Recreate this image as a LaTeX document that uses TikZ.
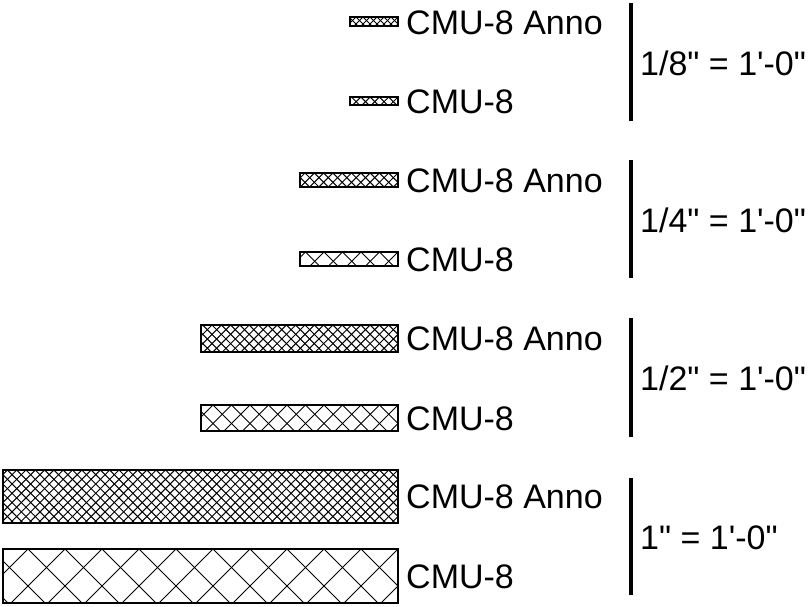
\documentclass[tikz,border=0pt]{standalone}
\usepackage{fontspec}
\newfontfamily\lblfont{Liberation Sans}
\usetikzlibrary{positioning}
\tikzset{
  lbl/.style={anchor=west,inner sep=0pt,font=\lblfont\fontsize{34}{38}\selectfont},
  bar/.style={line width=4pt},
  frame/.style={line width=2.5pt},
  hatch/.style={line width=1pt}
}
% name, left x, top y, bottom y, period
\newcommand{\hatchbox}[5]{%
  \begin{scope}
    \clip (#2,#3) rectangle (398,#4);
    \pgfmathsetmacro{\hstep}{#5}
    \foreach \k in {-25,...,110}{
      \pgfmathsetmacro{\xs}{398-\k*\hstep}
      \draw[hatch] (\xs,#3) -- ++(-100,100) (\xs,#3) -- ++(100,100);
    }
  \end{scope}
  \draw[frame] (#2,#3) rectangle (398,#4);
  \coordinate (#1) at (398,{(#3+#4)/2});
}
\begin{document}
\begin{tikzpicture}[x=1pt,y=-1pt]
  \useasboundingbox (0,0) rectangle (810,606);
  %% 1/8
  \hatchbox{a1}{350}{17}{26}{7}
  \hatchbox{b1}{350}{97}{105}{9.3}
  \node[lbl] (ta1) at (406,23) {CMU-8 Anno};
  \node[lbl] (tb1) at (406,102) {CMU-8};
  %% 1/4
  \hatchbox{a2}{300}{173}{187}{9.3}
  \hatchbox{b2}{300}{252}{266}{18.5}
  \node[lbl] (ta2) at (406,181) {CMU-8 Anno};
  \node[lbl] (tb2) at (406,260) {CMU-8};
  %% 1/2
  \hatchbox{a3}{201}{325}{352}{9.3}
  \hatchbox{b3}{201}{405}{431}{18.5}
  \node[lbl] (ta3) at (406,339) {CMU-8 Anno};
  \node[lbl] (tb3) at (406,419) {CMU-8};
  %% 1
  \hatchbox{a4}{3}{470}{523}{9.3}
  \hatchbox{b4}{3}{549}{603}{37}
  \node[lbl] (ta4) at (406,497) {CMU-8 Anno};
  \node[lbl] (tb4) at (406,577) {CMU-8};
  %% scale bars
  \foreach \t/\b/\s [count=\i] in {3/121/{1/8" = 1'-0"},160/278/{1/4" = 1'-0"},318/437/{1/2" = 1'-0"},478/595/{1" = 1'-0"}}{
    \coordinate (s\i) at (631,\t);
    \coordinate (e\i) at (631,\b);
    \draw[bar] (s\i) -- (e\i);
    \node[lbl] (sc\i) at (640,{(\t+\b)/2+1}) {\s};
  }
\end{tikzpicture}
\end{document}
